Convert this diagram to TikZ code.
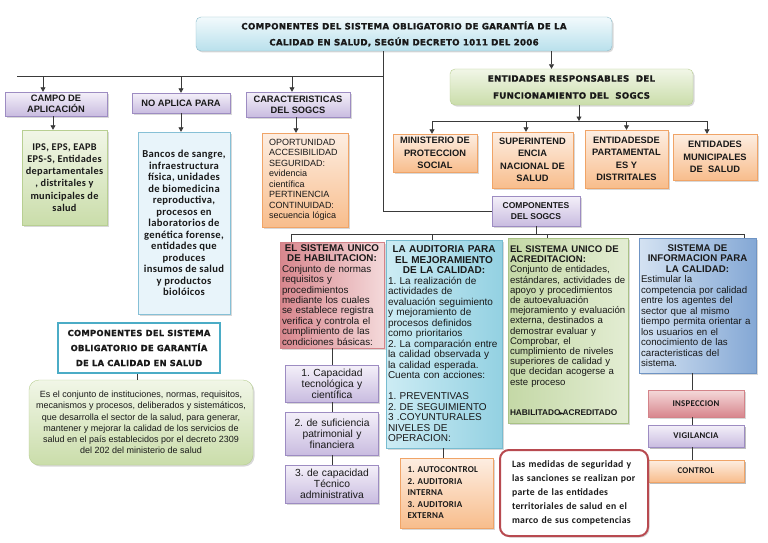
\documentclass[tikz,border=0pt]{standalone}
\usepackage{fontspec}
\setmainfont{Liberation Sans}
\newfontfamily\cali{Carlito}[LetterSpace=3]
\newfontfamily\heavy{DejaVu Sans Bold}[LetterSpace=3,FakeBold=1.2]
\newfontfamily\symfont{DejaVu Sans}
\usetikzlibrary{arrows.meta,shadows}
\definecolor{linegray}{HTML}{3A3A3A}
\definecolor{titletop}{HTML}{F2FAFC}
\definecolor{titlebot}{HTML}{B9E0EC}
\definecolor{titleline}{HTML}{8DBCCB}
\definecolor{lilactop}{HTML}{F4F0F9}
\definecolor{lilacbot}{HTML}{C9BCE0}
\definecolor{lilacline}{HTML}{9D8CC2}
\definecolor{greentop}{HTML}{F1F6E7}
\definecolor{greenbot}{HTML}{CADDAA}
\definecolor{greenline}{HTML}{B8CF92}
\definecolor{skyfill}{HTML}{E8F4FA}
\definecolor{skyline}{HTML}{86C0D6}
\definecolor{peachtop}{HTML}{FDEEE2}
\definecolor{peachbot}{HTML}{F8BD8C}
\definecolor{peachline}{HTML}{F0A467}
\definecolor{rosedark}{HTML}{D8868D}
\definecolor{roselight}{HTML}{F4D9DA}
\definecolor{roseline}{HTML}{D38389}
\definecolor{aqualight}{HTML}{CDECF4}
\definecolor{aquadark}{HTML}{93D1E2}
\definecolor{aqualine}{HTML}{78BCD0}
\definecolor{mossdark}{HTML}{C4D8A6}
\definecolor{mosslight}{HTML}{E3EDD3}
\definecolor{mossline}{HTML}{A9C285}
\definecolor{bluelight}{HTML}{D4E2F2}
\definecolor{bluedark}{HTML}{84A8D5}
\definecolor{blueline}{HTML}{6F94C4}
\definecolor{medred}{HTML}{B84A50}
\definecolor{tealline}{HTML}{4BACC6}
\newcommand{\colhead}[1]{{\centering\bfseries #1\par}}
\begin{document}
\frenchspacing
\begin{tikzpicture}[x=1pt,y=-1pt,
   every node/.style={inner sep=2pt,text=black!90},
   link/.style={draw=linegray,line width=0.8pt},
   arr/.style={link,-{Triangle[width=5pt,length=4.5pt]}},
   boxshadow/.style={drop shadow={opacity=0.3,shadow xshift=1.5pt,shadow yshift=-1.5pt}},
   banner/.style={boxshadow,rounded corners=5pt,align=center,font=\heavy\fontsize{8.7}{16}\selectfont},
   lilac/.style={boxshadow,draw=lilacline,top color=lilactop,bottom color=lilacbot},
   peach/.style={boxshadow,draw=peachline,top color=peachtop,bottom color=peachbot},
   header/.style={lilac,align=center,font=\bfseries\fontsize{9.3}{11}\selectfont},
   entity/.style={peach,align=center,inner ysep=1pt,font=\bfseries\fontsize{9.3}{12.5}\selectfont},
   column/.style={boxshadow,inner xsep=2pt,inner ysep=2pt},
   calitext/.style={font=\cali\bfseries\fontsize{10.3}{12.3}\selectfont},
   capbox/.style={lilac,text width=89pt,align=center,font=\fontsize{10.3}{11}\selectfont},
   small/.style={boxshadow,minimum width=96pt,align=center,font=\cali\bfseries\fontsize{8.8}{10}\selectfont}]

\fill[white] (0,0) rectangle (768,543);
\useasboundingbox (0,0) rectangle (768,543);

\node[banner,draw=titleline,top color=titletop,bottom color=titlebot,minimum width=416pt,minimum height=34pt] (title) at (404,34)
   {COMPONENTES DEL SISTEMA OBLIGATORIO DE GARANTÍA DE LA\\CALIDAD EN SALUD, SEGÚN DECRETO 1011 DEL 2006};
\node[banner,draw=greenline,top color=greentop,bottom color=greenbot,minimum width=243pt,minimum height=36pt,
   font=\heavy\fontsize{8.7}{17}\selectfont] (entidades) at (571.5,87)
   {ENTIDADES RESPONSABLES\ \ DEL\\FUNCIONAMIENTO DEL\ \ SOGCS};

\node[header,minimum width=102pt,minimum height=24pt] (campo) at (56,104) {CAMPO DE\\APLICACIÓN};
\node[header,minimum width=98pt,minimum height=20pt] (noaplica) at (181,103) {NO APLICA PARA};
\node[header,minimum width=104pt,minimum height=25pt] (caract) at (298,104.5) {CARACTERISTICAS\\DEL SOGCS};

\node[calitext,boxshadow,draw=greenline,top color=greentop,bottom color=greenbot,align=center,
   minimum width=85pt,minimum height=95pt] (campotxt) at (64.5,177.5)
   {IPS, EPS, EAPB\\EPS-S, Entidades\\departamentales\\, distritales y\\municipales de\\salud};
\node[calitext,boxshadow,draw=skyline,fill=skyfill,align=center,minimum width=92pt,minimum height=182pt,
   font=\cali\bfseries\fontsize{10.6}{11.5}\selectfont] (noaplicatxt) at (184,223)
   {Bancos de sangre,\\infraestructura\\física, unidades\\de biomedicina\\reproductiva,\\procesos en\\laboratorios de\\genética forense,\\entidades que\\produces\\insumos de salud\\y productos\\biolóicos};
\node[peach,align=left,text width=72pt,inner xsep=7pt,minimum height=94pt,font=\fontsize{9}{10.5}\selectfont] (caracttxt) at (305,180)
   {OPORTUNIDAD\\ACCESIBILIDAD\\SEGURIDAD:\\evidencia\\científica\\PERTINENCIA\\CONTINUIDAD:\\secuencia lógica};

\node[entity,minimum width=84pt,minimum height=38pt] (ministerio) at (435,153) {MINISTERIO DE\\PROTECCION\\SOCIAL};
\node[entity,minimum width=81pt,minimum height=56pt] (superint) at (532.5,160) {SUPERINTEND\\ENCIA\\NACIONAL DE\\SALUD};
\node[entity,minimum width=83pt,minimum height=58pt] (entdep) at (626.5,159) {ENTIDADESDE\\PARTAMENTAL\\ES Y\\DISTRITALES};
\node[entity,minimum width=84pt,minimum height=46pt] (entmun) at (715,157) {ENTIDADES\\MUNICIPALES\\DE\ \ SALUD};

\node[header,minimum width=88pt,minimum height=30pt,font=\bfseries\fontsize{8.5}{10.5}\selectfont] (compsogcs) at (536,211) {COMPONENTES\\DEL SOGCS};

\node[column,draw=roseline,left color=rosedark,right color=roselight,text width=100pt,minimum height=106pt,
   font=\fontsize{9.8}{10.4}\selectfont] (habil) at (332,295)
   {\colhead{EL SISTEMA UNICO\\DE HABILITACION:}\raggedright Conjunto de normas\\requisitos y\\procedimientos\\mediante los cuales\\se establece registra\\verifica y controla el\\cumplimiento de las\\condiciones básicas:};
\node[column,draw=aqualine,left color=aqualight,right color=aquadark,text width=112pt,minimum height=208pt,
   font=\fontsize{10}{10.5}\selectfont] (audit) at (444,344)
   {\colhead{LA AUDITORIA PARA\\EL MEJORAMIENTO\\DE LA CALIDAD:}\raggedright 1. La realización de\\actividades de\\evaluación seguimiento\\y mejoramiento de\\procesos definidos\\como prioritarios\\2. La comparación entre\\la calidad observada y\\la calidad esperada.\\Cuenta con acciones:\\[10.5pt]1. PREVENTIVAS\\2. DE SEGUIMIENTO\\3 .COYUNTURALES\\NIVELES DE\\OPERACION:};
\node[column,draw=mossline,left color=mossdark,right color=mosslight,text width=116pt,minimum height=185pt,
   font=\fontsize{9.6}{10.2}\selectfont] (acred) at (568,330.5)
   {{\raggedright\bfseries EL SISTEMA UNICO DE\\ACREDITACION:\par}\raggedright Conjunto de entidades,\\estándares, actividades de\\apoyo y procedimientos\\de autoevaluación\\mejoramiento y evaluación\\externa, destinados a\\demostrar evaluar y\\Comprobar, el\\cumplimiento de niveles\\superiores de calidad y\\que decidan acogerse a\\este proceso\par\vspace{20pt}
   {\bfseries\fontsize{8.3}{10}\selectfont HABILITADO{\symfont\fontsize{6}{6}\selectfont\kern-1pt►\kern-1.5pt}ACREDITADO\par}};
\node[column,draw=blueline,left color=bluelight,right color=bluedark,text width=113pt,minimum height=135pt,
   font=\fontsize{9.7}{10.5}\selectfont] (sinfo) at (697.5,305.5)
   {\colhead{SISTEMA DE\\INFORMACION PARA\\LA CALIDAD:}\raggedright Estimular la\\competencia por calidad\\entre los agentes del\\sector que al mismo\\tiempo permita orientar a\\los usuarios en el\\conocimiento de las\\caracteristicas del\\sistema.};

\node[small,draw=roseline,top color=roselight,bottom color=rosedark,minimum height=27pt] (insp) at (696,403.5) {INSPECCION};
\node[small,lilac,minimum height=22pt] (vig) at (696,436) {VIGILANCIA};
\node[small,peach,minimum height=22pt] (control) at (696,471) {CONTROL};

\node[capbox,minimum height=37pt] (cap1) at (332,383.5) {1. Capacidad\\tecnológica y\\científica};
\node[capbox,minimum height=43pt] (cap2) at (332,433.5) {2. de suficiencia\\patrimonial y\\financiera};
\node[capbox,minimum height=38pt] (cap3) at (332,484) {3. de capacidad\\Técnico\\administrativa};

\node[peach,text width=78pt,inner xsep=7.5pt,align=left,minimum height=70pt,font=\cali\bfseries\fontsize{9}{11.5}\selectfont] (autoc) at (446.5,493)
   {1. AUTOCONTROL\\2. AUDITORIA\\INTERNA\\3. AUDITORIA\\EXTERNA};
\node[boxshadow,draw=medred,line width=2pt,fill=white,rounded corners=9pt,text width=124pt,inner xsep=12pt,align=left,
   minimum height=86pt,font=\cali\bfseries\fontsize{9.7}{14}\selectfont] (medidas) at (574,493)
   {Las medidas de seguridad y\\las sanciones se realizan por\\parte de las entidades\\territoriales de salud en el\\marco de sus competencias};

\node[draw=tealline,line width=2pt,fill=white,align=center,minimum width=162pt,minimum height=50pt,
   font=\heavy\fontsize{8.4}{15}\selectfont] (compbl) at (139,348)
   {COMPONENTES DEL SISTEMA\\OBLIGATORIO DE GARANTÍA\\DE LA CALIDAD EN SALUD};
\node[boxshadow,draw=greenline,top color=greentop,bottom color=greenbot,rounded corners=10pt,align=center,
   minimum width=224pt,minimum height=85pt,font=\fontsize{9}{11.3}\selectfont] (compdef) at (141,422.5)
   {Es el conjunto de instituciones, normas, requisitos,\\mecanismos y procesos, deliberados y sistemáticos,\\que desarrolla el sector de la salud, para generar,\\mantener y mejorar la calidad de los servicios de\\salud en el país establecidos por el decreto 2309\\del 202 del ministerio de salud};

\coordinate (split) at (383,76);
\coordinate (busend) at (17,76);
\coordinate (bend) at (split |- compsogcs.west);
\coordinate (ebus) at (579,121);
\coordinate (cbus) at (536,234);

\draw[link] (split |- title.south) -- (bend) -- (compsogcs.west);
\draw[link] (busend) -- (split);
\draw[arr] ([xshift=-13pt]campo.north |- split) -- ([xshift=-13pt]campo.north);
\draw[arr] (noaplica.north |- split) -- (noaplica.north);
\draw[arr] ([xshift=-6pt]caract.north |- split) -- ([xshift=-6pt]caract.north);
\draw[arr] ([xshift=-3pt]campo.south) -- ([xshift=-3pt]campo.south |- campotxt.north);
\draw[arr] (noaplica.south) -- (noaplica.south |- noaplicatxt.north);
\draw[arr] ([xshift=-2pt]caract.south) -- ([xshift=-2pt]caract.south |- caracttxt.north);

\draw[arr] ([xshift=-20pt]entidades.north |- title.south) -- ([xshift=-20pt]entidades.north);
\draw[arr] ([xshift=7.5pt]entidades.south) -- (ebus);
\draw[link] ([xshift=-3pt]ministerio.north |- ebus) -- ([xshift=-8pt]entmun.north |- ebus);
\foreach \b/\s in {ministerio/-3pt,superint/-6.5pt,entdep/0pt,entmun/-8pt}
   \draw[arr] ([xshift=\s]\b.north |- ebus) -- ([xshift=\s]\b.north);

\draw[link] (compsogcs.south) -- (cbus);
\draw[link] ([xshift=-41pt]habil.north) -- ([xshift=-41pt]habil.north |- cbus) -| ([xshift=46.5pt]sinfo.north);
\draw[link] ([xshift=-12pt]audit.north) -- ([xshift=-12pt]audit.north |- cbus);
\draw[link] ([xshift=-21pt]acred.north) -- ([xshift=-21pt]acred.north |- cbus);

\draw[link] (habil.south) -- (cap1.north) (cap1.south) -- (cap2.north) (cap2.south) -- (cap3.north);
\draw[link] ([xshift=-1pt]audit.south) -- ([xshift=-1pt]audit.south |- autoc.north);
\draw[link] ([xshift=-4pt]insp.north |- sinfo.south) -- ([xshift=-4pt]insp.north)
   ([xshift=-4pt]insp.south) -- ([xshift=-4pt]vig.north) ([xshift=-4pt]vig.south) -- ([xshift=-4pt]control.north);
\draw[link] ([xshift=-2pt]compbl.south) -- ([xshift=-2pt]compbl.south |- compdef.north);

\end{tikzpicture}
\end{document}
